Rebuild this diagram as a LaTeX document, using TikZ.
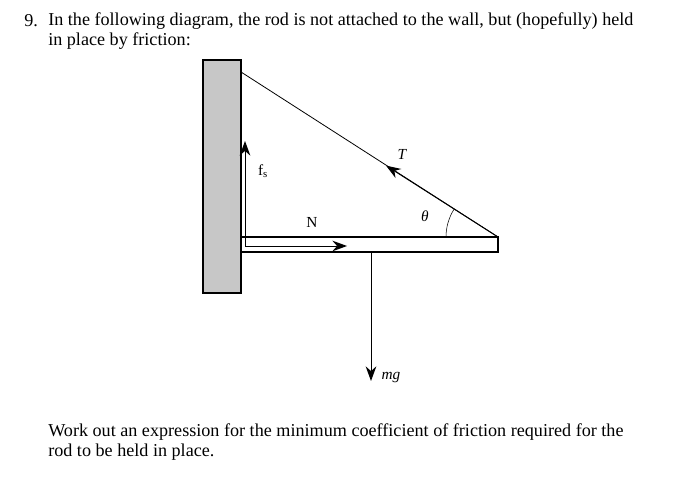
\documentclass[tikz,border=0pt]{standalone}
\usepackage{fontspec}
\setmainfont{Liberation Serif}
\usetikzlibrary{arrows.meta}
\begin{document}
\begin{tikzpicture}[x=0.75pt,y=-0.75pt,
 txt/.style={anchor=west,inner sep=0pt,font=\fontsize{13.6}{16}\selectfont},
 lbl/.style={inner sep=0pt,font=\fontsize{11.5}{13}\selectfont},
 force/.style={-{Stealth[length=11pt,width=8pt]},line width=0.7pt}]
\useasboundingbox (0,0) rectangle (698,498);
\node[txt] (n9) at (24,21) {9.};
\node[txt] (l1) at (48,21) {In the following diagram, the rod is not attached to the wall, but (hopefully) held};
\node[txt] (l2) at (48,41) {in place by friction:};
\draw[fill=black!22,line width=1.2pt] (203,60) rectangle (241,293);
\draw[line width=1.6pt] (241,237) rectangle (498,252);
\coordinate (tip) at (498,237);
\coordinate (top) at (241,72);
\draw[line width=0.6pt] (tip) -- (top);
\draw[force] (tip) -- (386,165.6);
\draw (tip) ++(180:52) arc[start angle=180,end angle=212.7,radius=52];
\coordinate (fb) at (245,246);
\draw[force] (fb) -- (245,141);
\draw[force] (fb) -- (347,246);
\draw[force] (371,252) -- (371,381);
\node[lbl] (T) at (402,154) {\itshape T};
\node[lbl] (th) at (425,216) {\itshape θ};
\node[lbl] (N) at (312,222) {N};
\node[lbl] (fs) at (263,171) {f\textsubscript{s}};
\node[lbl] (mg) at (391,378) {\itshape mg};
\node[txt] (b1) at (48,432) {Work out an expression for the minimum coefficient of friction required for the};
\node[txt] (b2) at (48,452) {rod to be held in place.};
\end{tikzpicture}
\end{document}
